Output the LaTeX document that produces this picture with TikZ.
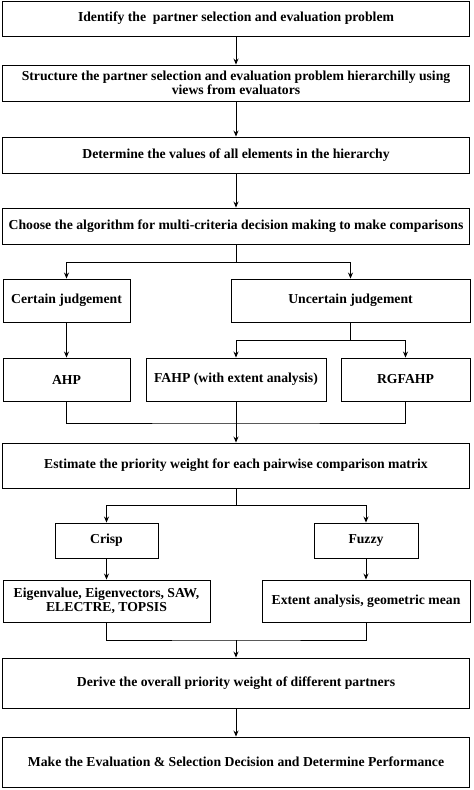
\documentclass[tikz,border=0pt]{standalone}
\usepackage{fontspec}
\setmainfont{Liberation Serif}
\usetikzlibrary{arrows.meta}
\tikzset{
    stagebox/.style={draw,line width=0.9pt,align=center,inner sep=1pt,font=\bfseries\fontsize{13.7}{14.5}\selectfont},
    flow/.style={line width=0.9pt,line cap=rect},
    flowarrow/.style={line width=0.9pt,-{Stealth[length=6pt,width=5pt]}}
}
\begin{document}
\begin{tikzpicture}[x=1pt,y=-1pt]
    \useasboundingbox (0,0) rectangle (474,790);
    % main steps
    \node[stagebox,minimum width=467pt,minimum height=35pt] (identify) at (236,18.5) {Identify the\ \ partner selection and evaluation problem};
    \node[stagebox,minimum width=467pt,minimum height=36pt] (structure) at (236,83) {Structure the partner selection and evaluation problem hierarchilly using\\ views from evaluators};
    \node[stagebox,minimum width=467pt,minimum height=36pt] (values) at (236,155) {Determine the values of all elements in the hierarchy};
    \node[stagebox,minimum width=467pt,minimum height=36pt] (choose) at (236,226) {Choose the algorithm for multi-criteria decision making to make comparisons};
    % judgements
    \node[stagebox,minimum width=127pt,minimum height=43pt] (certain) at (66.5,300.5) {Certain judgement};
    \node[stagebox,minimum width=239pt,minimum height=43pt] (uncertain) at (350.5,300.5) {Uncertain judgement};
    \node[stagebox,minimum width=127pt,minimum height=43pt] (ahp) at (66.5,379.5) {AHP};
    \node[stagebox,minimum width=180pt,minimum height=43pt] (fahp) at (236,379.5) {FAHP (with extent analysis)};
    \node[stagebox,minimum width=129pt,minimum height=43pt] (rgfahp) at (405.5,379.5) {RGFAHP};
    \node[stagebox,minimum width=467pt,minimum height=45pt] (estimate) at (236,465.5) {Estimate the priority weight for each pairwise comparison matrix};
    % weighting
    \node[stagebox,minimum width=103pt,minimum height=35pt] (crisp) at (106.5,540.5) {Crisp};
    \node[stagebox,minimum width=104pt,minimum height=35pt] (fuzzy) at (366,540.5) {Fuzzy};
    \node[stagebox,minimum width=207pt,minimum height=42pt] (eigen) at (106.5,601) {Eigenvalue, Eigenvectors, SAW,\\ ELECTRE, TOPSIS};
    \node[stagebox,minimum width=208pt,minimum height=42pt] (extent) at (366,601) {Extent analysis, geometric mean};
    \node[stagebox,minimum width=467pt,minimum height=50pt] (derive) at (236,683) {Derive the overall priority weight of different partners};
    \node[stagebox,minimum width=467pt,minimum height=50pt] (decide) at (236,762) {Make the Evaluation \& Selection Decision and Determine Performance};
    % branch points
    \coordinate (split1) at (236,262);
    \coordinate (split2) at (350.5,340);
    \coordinate (join1) at (236,423);
    \coordinate (split3) at (236,505);
    \coordinate (join2) at (236,640);
    % connectors
    \draw[flowarrow] (identify) -- (structure);
    \draw[flowarrow] (structure) -- (values);
    \draw[flowarrow] (values) -- (choose);
    \draw[flow] (choose.south) -- (split1);
    \draw[flowarrow] (split1) -| (certain.north);
    \draw[flowarrow] (split1) -| (uncertain.north);
    \draw[flowarrow] (certain) -- (ahp);
    \draw[flow] (uncertain.south) -- (split2);
    \draw[flowarrow] (split2) -| (fahp.north);
    \draw[flowarrow] (split2) -| (rgfahp.north);
    \draw[flow] (ahp.south) |- (join1) -| (rgfahp.south);
    \draw[flowarrow] (fahp) -- (estimate);
    \draw[flow] (estimate.south) -- (split3);
    \draw[flowarrow] (split3) -| (crisp.north);
    \draw[flowarrow] (split3) -| (fuzzy.north);
    \draw[flowarrow] (crisp) -- (eigen);
    \draw[flowarrow] (fuzzy) -- (extent);
    \draw[flow] (eigen.south) |- (join2) -| (extent.south);
    \draw[flowarrow] (join2) -- (derive);
    \draw[flowarrow] (derive) -- (decide);
\end{tikzpicture}
\end{document}
